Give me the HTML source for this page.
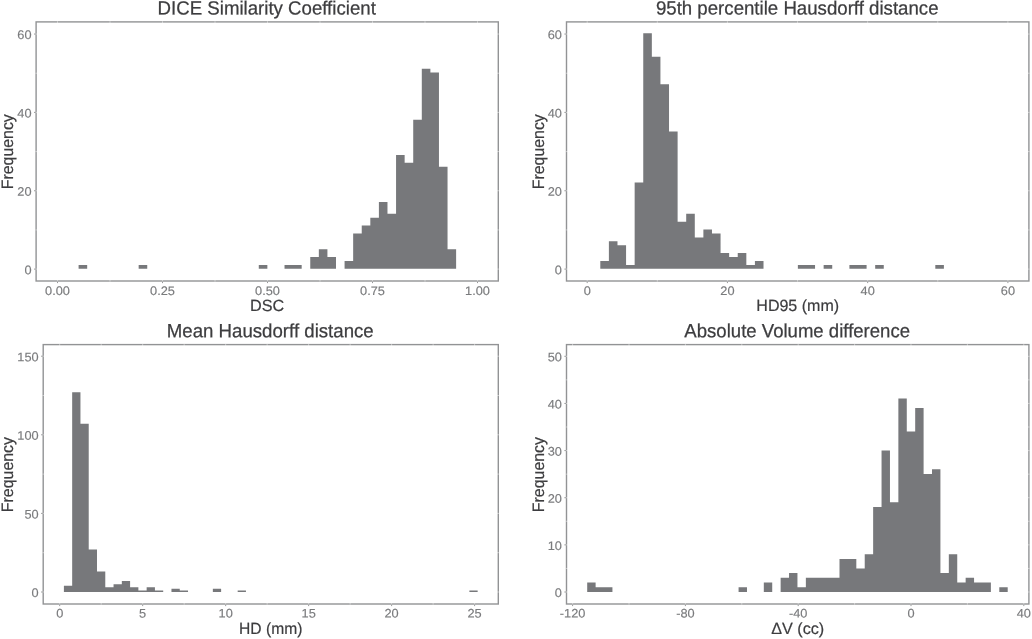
<!DOCTYPE html>
<html lang="en">
<head>
<meta charset="utf-8">
<title>Histograms</title>
<style>
html,body{margin:0;padding:0;background:#fff;}
body{width:1032px;height:639px;overflow:hidden;}
svg{display:block;}
text{font-family:"Liberation Sans",Arial,Helvetica,sans-serif;text-rendering:geometricPrecision;}
.tk{font-size:12.4px;fill:#7a7b7d;stroke:#7a7b7d;stroke-width:0.15px;}
.tt{font-size:19.1px;fill:#3d3d3f;stroke:#3d3d3f;stroke-width:0.25px;}
.ax{font-size:15.9px;fill:#3d3d3f;stroke:#3d3d3f;stroke-width:0.2px;}
.axx{font-size:16.2px;fill:#3d3d3f;stroke:#3d3d3f;stroke-width:0.2px;}
</style>
</head>
<body>
<svg width="1032" height="639" viewBox="0 0 1032 639">
<rect x="0" y="0" width="1032" height="639" fill="#fff"/>
<rect x="36.1" y="21.9" width="462.2" height="259.1" fill="#fff" stroke="#929395" stroke-width="1.4"/>
<path d="M57.5 21.2V281.7M162.5 21.2V281.7M267.5 21.2V281.7M372.5 21.2V281.7M477.5 21.2V281.7M110 21.2V281.7M215 21.2V281.7M320 21.2V281.7M425 21.2V281.7M35.4 269.1H499M35.4 190.75H499M35.4 112.4H499M35.4 34.05H499M35.4 229.93H499M35.4 151.58H499M35.4 73.23H499" stroke="#fff" stroke-width="0.6" opacity="0.75" fill="none"/>
<path d="M78.6 268.8V264.88H87.18V268.8ZM138.66 268.8V264.88H147.24V268.8ZM258.78 268.8V264.88H267.36V268.8ZM284.52 268.8V264.88H293.1V268.8ZM293.1 268.8V264.88H301.68V268.8ZM310.26 268.8V257.03H318.84V268.8ZM318.84 268.8V249.18H327.42V268.8ZM327.42 268.8V257.03H336V268.8ZM344.58 268.8V260.95H353.16V268.8ZM353.16 268.8V233.48H361.74V268.8ZM361.74 268.8V225.62H370.32V268.8ZM370.32 268.8V217.78H378.9V268.8ZM378.9 268.8V202.08H387.48V268.8ZM387.48 268.8V213.85H396.06V268.8ZM396.06 268.8V154.98H404.64V268.8ZM404.64 268.8V162.83H413.22V268.8ZM413.22 268.8V119.65H421.8V268.8ZM421.8 268.8V68.63H430.38V268.8ZM430.38 268.8V72.55H438.96V268.8ZM438.96 268.8V166.75H447.54V268.8ZM447.54 268.8V249.18H456.12V268.8Z" fill="#77787b"/>
<path d="M57.5 281.6v1.5M162.5 281.6v1.5M267.5 281.6v1.5M372.5 281.6v1.5M477.5 281.6v1.5M35.5 269.1h-1.5M35.5 190.75h-1.5M35.5 112.4h-1.5M35.5 34.05h-1.5" stroke="#7c7d7f" stroke-width="0.8" fill="none"/>
<text transform="translate(57.5,294.9) rotate(0.03) scale(1.03,1)" text-anchor="middle" class="tk">0.00</text>
<text transform="translate(162.5,294.9) rotate(0.03) scale(1.03,1)" text-anchor="middle" class="tk">0.25</text>
<text transform="translate(267.5,294.9) rotate(0.03) scale(1.03,1)" text-anchor="middle" class="tk">0.50</text>
<text transform="translate(372.5,294.9) rotate(0.03) scale(1.03,1)" text-anchor="middle" class="tk">0.75</text>
<text transform="translate(477.5,294.9) rotate(0.03) scale(1.03,1)" text-anchor="middle" class="tk">1.00</text>
<text transform="translate(31.55,274.15) rotate(0.03) scale(1.03,1)" text-anchor="end" class="tk">0</text>
<text transform="translate(31.55,195.8) rotate(0.03) scale(1.03,1)" text-anchor="end" class="tk">20</text>
<text transform="translate(31.55,117.45) rotate(0.03) scale(1.03,1)" text-anchor="end" class="tk">40</text>
<text transform="translate(31.55,39.1) rotate(0.03) scale(1.03,1)" text-anchor="end" class="tk">60</text>
<text transform="translate(266.7,14.5) rotate(0.03)" text-anchor="middle" class="tt" textLength="218.2" lengthAdjust="spacingAndGlyphs">DICE Similarity Coefficient</text>
<text transform="translate(267.2,311) rotate(0.03) scale(1,1)" text-anchor="middle" class="axx">DSC</text>
<text transform="translate(13.4,151.75) rotate(-90) scale(1,1.04)" text-anchor="middle" class="ax">Frequency</text>
<rect x="566.5" y="21.9" width="462.4" height="259.1" fill="#fff" stroke="#929395" stroke-width="1.4"/>
<path d="M587.2 21.2V281.7M727.43 21.2V281.7M867.66 21.2V281.7M1007.89 21.2V281.7M657.32 21.2V281.7M797.55 21.2V281.7M937.78 21.2V281.7M565.8 269.1H1029.6M565.8 190.75H1029.6M565.8 112.4H1029.6M565.8 34.05H1029.6M565.8 229.93H1029.6M565.8 151.58H1029.6M565.8 73.23H1029.6" stroke="#fff" stroke-width="0.6" opacity="0.75" fill="none"/>
<path d="M600.3 268.8V260.95H608.89V268.8ZM608.89 268.8V241.33H617.48V268.8ZM617.48 268.8V245.25H626.07V268.8ZM626.07 268.8V264.88H634.66V268.8ZM634.66 268.8V182.45H643.25V268.8ZM643.25 268.8V33.3H651.84V268.8ZM651.84 268.8V56.85H660.43V268.8ZM660.43 268.8V84.33H669.02V268.8ZM669.02 268.8V131.43H677.61V268.8ZM677.61 268.8V221.7H686.2V268.8ZM686.2 268.8V213.85H694.79V268.8ZM694.79 268.8V237.4H703.38V268.8ZM703.38 268.8V229.55H711.97V268.8ZM711.97 268.8V233.48H720.56V268.8ZM720.56 268.8V253.1H729.15V268.8ZM729.15 268.8V257.03H737.74V268.8ZM737.74 268.8V253.1H746.33V268.8ZM746.33 268.8V264.88H754.92V268.8ZM754.92 268.8V260.95H763.51V268.8ZM797.87 268.8V264.88H806.46V268.8ZM806.46 268.8V264.88H815.05V268.8ZM823.64 268.8V264.88H832.23V268.8ZM849.41 268.8V264.88H858V268.8ZM858 268.8V264.88H866.59V268.8ZM875.18 268.8V264.88H883.77V268.8ZM935.31 268.8V264.88H943.9V268.8Z" fill="#77787b"/>
<path d="M587.2 281.6v1.5M727.43 281.6v1.5M867.66 281.6v1.5M1007.89 281.6v1.5M565.9 269.1h-1.5M565.9 190.75h-1.5M565.9 112.4h-1.5M565.9 34.05h-1.5" stroke="#7c7d7f" stroke-width="0.8" fill="none"/>
<text transform="translate(587.2,294.9) rotate(0.03) scale(1.03,1)" text-anchor="middle" class="tk">0</text>
<text transform="translate(727.43,294.9) rotate(0.03) scale(1.03,1)" text-anchor="middle" class="tk">20</text>
<text transform="translate(867.66,294.9) rotate(0.03) scale(1.03,1)" text-anchor="middle" class="tk">40</text>
<text transform="translate(1007.89,294.9) rotate(0.03) scale(1.03,1)" text-anchor="middle" class="tk">60</text>
<text transform="translate(561.95,274.15) rotate(0.03) scale(1.03,1)" text-anchor="end" class="tk">0</text>
<text transform="translate(561.95,195.8) rotate(0.03) scale(1.03,1)" text-anchor="end" class="tk">20</text>
<text transform="translate(561.95,117.45) rotate(0.03) scale(1.03,1)" text-anchor="end" class="tk">40</text>
<text transform="translate(561.95,39.1) rotate(0.03) scale(1.03,1)" text-anchor="end" class="tk">60</text>
<text transform="translate(797.2,14.5) rotate(0.03)" text-anchor="middle" class="tt" textLength="282.6" lengthAdjust="spacingAndGlyphs">95th percentile Hausdorff distance</text>
<text transform="translate(797.7,311) rotate(0.03) scale(0.99,1)" text-anchor="middle" class="axx">HD95 (mm)</text>
<text transform="translate(544,151.75) rotate(-90) scale(1,1.04)" text-anchor="middle" class="ax">Frequency</text>
<rect x="43.2" y="344.6" width="455.1" height="259.4" fill="#fff" stroke="#929395" stroke-width="1.4"/>
<path d="M59.7 343.9V604.7M142.68 343.9V604.7M225.66 343.9V604.7M308.64 343.9V604.7M391.62 343.9V604.7M474.6 343.9V604.7M101.19 343.9V604.7M184.17 343.9V604.7M267.15 343.9V604.7M350.13 343.9V604.7M433.11 343.9V604.7M42.5 592H499M42.5 513.4H499M42.5 434.8H499M42.5 356.2H499M42.5 552.7H499M42.5 474.1H499M42.5 395.5H499" stroke="#fff" stroke-width="0.6" opacity="0.75" fill="none"/>
<path d="M63.9 592V585.71H72.17V592ZM72.17 592V392.36H80.45V592ZM80.45 592V423.8H88.72V592ZM88.72 592V549.56H97V592ZM97 592V571.56H105.28V592ZM105.28 592V587.28H113.55V592ZM113.55 592V584.14H121.83V592ZM121.83 592V581H130.1V592ZM130.1 592V587.28H138.38V592ZM138.38 592V590.43H146.65V592ZM146.65 592V587.28H154.93V592ZM154.93 592V590.43H163.2V592ZM171.47 592V588.86H179.75V592ZM179.75 592V590.43H188.03V592ZM212.85 592V588.86H221.12V592ZM237.68 592V590.43H245.95V592ZM469.38 592V590.43H477.65V592Z" fill="#77787b"/>
<path d="M59.7 604.6v1.5M142.68 604.6v1.5M225.66 604.6v1.5M308.64 604.6v1.5M391.62 604.6v1.5M474.6 604.6v1.5M42.6 592h-1.5M42.6 513.4h-1.5M42.6 434.8h-1.5M42.6 356.2h-1.5" stroke="#7c7d7f" stroke-width="0.8" fill="none"/>
<text transform="translate(59.7,617.5) rotate(0.03) scale(1.03,1)" text-anchor="middle" class="tk">0</text>
<text transform="translate(142.68,617.5) rotate(0.03) scale(1.03,1)" text-anchor="middle" class="tk">5</text>
<text transform="translate(225.66,617.5) rotate(0.03) scale(1.03,1)" text-anchor="middle" class="tk">10</text>
<text transform="translate(308.64,617.5) rotate(0.03) scale(1.03,1)" text-anchor="middle" class="tk">15</text>
<text transform="translate(391.62,617.5) rotate(0.03) scale(1.03,1)" text-anchor="middle" class="tk">20</text>
<text transform="translate(474.6,617.5) rotate(0.03) scale(1.03,1)" text-anchor="middle" class="tk">25</text>
<text transform="translate(38.65,597.05) rotate(0.03) scale(1.03,1)" text-anchor="end" class="tk">0</text>
<text transform="translate(38.65,518.45) rotate(0.03) scale(1.03,1)" text-anchor="end" class="tk">50</text>
<text transform="translate(38.65,439.85) rotate(0.03) scale(1.03,1)" text-anchor="end" class="tk">100</text>
<text transform="translate(38.65,361.25) rotate(0.03) scale(1.03,1)" text-anchor="end" class="tk">150</text>
<text transform="translate(270.25,337.2) rotate(0.03)" text-anchor="middle" class="tt" textLength="207" lengthAdjust="spacingAndGlyphs">Mean Hausdorff distance</text>
<text transform="translate(270.75,634.1) rotate(0.03) scale(0.966,1)" text-anchor="middle" class="axx">HD (mm)</text>
<text transform="translate(13.4,474.6) rotate(-90) scale(1,1.04)" text-anchor="middle" class="ax">Frequency</text>
<rect x="566.5" y="344.6" width="462.4" height="259.4" fill="#fff" stroke="#929395" stroke-width="1.4"/>
<path d="M572.6 343.9V604.7M685.4 343.9V604.7M798.2 343.9V604.7M911 343.9V604.7M1023.8 343.9V604.7M629 343.9V604.7M741.8 343.9V604.7M854.6 343.9V604.7M967.4 343.9V604.7M565.8 592H1029.6M565.8 544.86H1029.6M565.8 497.72H1029.6M565.8 450.58H1029.6M565.8 403.44H1029.6M565.8 356.3H1029.6M565.8 568.43H1029.6M565.8 521.29H1029.6M565.8 474.15H1029.6M565.8 427.01H1029.6M565.8 379.87H1029.6" stroke="#fff" stroke-width="0.6" opacity="0.75" fill="none"/>
<path d="M587.2 592V582.56H595.61V592ZM595.61 592V587.28H604.02V592ZM604.02 592V587.28H612.43V592ZM738.58 592V587.28H746.99V592ZM763.81 592V582.56H772.22V592ZM780.63 592V577.84H789.04V592ZM789.04 592V573.12H797.45V592ZM797.45 592V587.28H805.86V592ZM805.86 592V577.84H814.27V592ZM814.27 592V577.84H822.68V592ZM822.68 592V577.84H831.09V592ZM831.09 592V577.84H839.5V592ZM839.5 592V558.96H847.91V592ZM847.91 592V558.96H856.32V592ZM856.32 592V568.4H864.73V592ZM864.73 592V554.24H873.14V592ZM873.14 592V507.04H881.55V592ZM881.55 592V450.4H889.96V592ZM889.96 592V502.32H898.37V592ZM898.37 592V398.48H906.78V592ZM906.78 592V431.52H915.19V592ZM915.19 592V407.92H923.6V592ZM923.6 592V474H932.01V592ZM932.01 592V469.28H940.42V592ZM940.42 592V573.12H948.83V592ZM948.83 592V554.24H957.24V592ZM957.24 592V582.56H965.65V592ZM965.65 592V577.84H974.06V592ZM974.06 592V582.56H982.47V592ZM982.47 592V582.56H990.88V592ZM999.29 592V587.28H1007.7V592Z" fill="#77787b"/>
<path d="M572.6 604.6v1.5M685.4 604.6v1.5M798.2 604.6v1.5M911 604.6v1.5M1023.8 604.6v1.5M565.9 592h-1.5M565.9 544.86h-1.5M565.9 497.72h-1.5M565.9 450.58h-1.5M565.9 403.44h-1.5M565.9 356.3h-1.5" stroke="#7c7d7f" stroke-width="0.8" fill="none"/>
<text transform="translate(572.6,617.5) rotate(0.03) scale(1.03,1)" text-anchor="middle" class="tk">-120</text>
<text transform="translate(685.4,617.5) rotate(0.03) scale(1.03,1)" text-anchor="middle" class="tk">-80</text>
<text transform="translate(798.2,617.5) rotate(0.03) scale(1.03,1)" text-anchor="middle" class="tk">-40</text>
<text transform="translate(911,617.5) rotate(0.03) scale(1.03,1)" text-anchor="middle" class="tk">0</text>
<text transform="translate(1023.8,617.5) rotate(0.03) scale(1.03,1)" text-anchor="middle" class="tk">40</text>
<text transform="translate(561.95,597.05) rotate(0.03) scale(1.03,1)" text-anchor="end" class="tk">0</text>
<text transform="translate(561.95,549.91) rotate(0.03) scale(1.03,1)" text-anchor="end" class="tk">10</text>
<text transform="translate(561.95,502.77) rotate(0.03) scale(1.03,1)" text-anchor="end" class="tk">20</text>
<text transform="translate(561.95,455.63) rotate(0.03) scale(1.03,1)" text-anchor="end" class="tk">30</text>
<text transform="translate(561.95,408.49) rotate(0.03) scale(1.03,1)" text-anchor="end" class="tk">40</text>
<text transform="translate(561.95,361.35) rotate(0.03) scale(1.03,1)" text-anchor="end" class="tk">50</text>
<text transform="translate(797.2,337.2) rotate(0.03)" text-anchor="middle" class="tt" textLength="225.7" lengthAdjust="spacingAndGlyphs">Absolute Volume difference</text>
<text transform="translate(797.7,634.1) rotate(0.03) scale(1,1)" text-anchor="middle" class="axx">ΔV (cc)</text>
<text transform="translate(544,474.6) rotate(-90) scale(1,1.04)" text-anchor="middle" class="ax">Frequency</text>
</svg>
</body>
</html>
